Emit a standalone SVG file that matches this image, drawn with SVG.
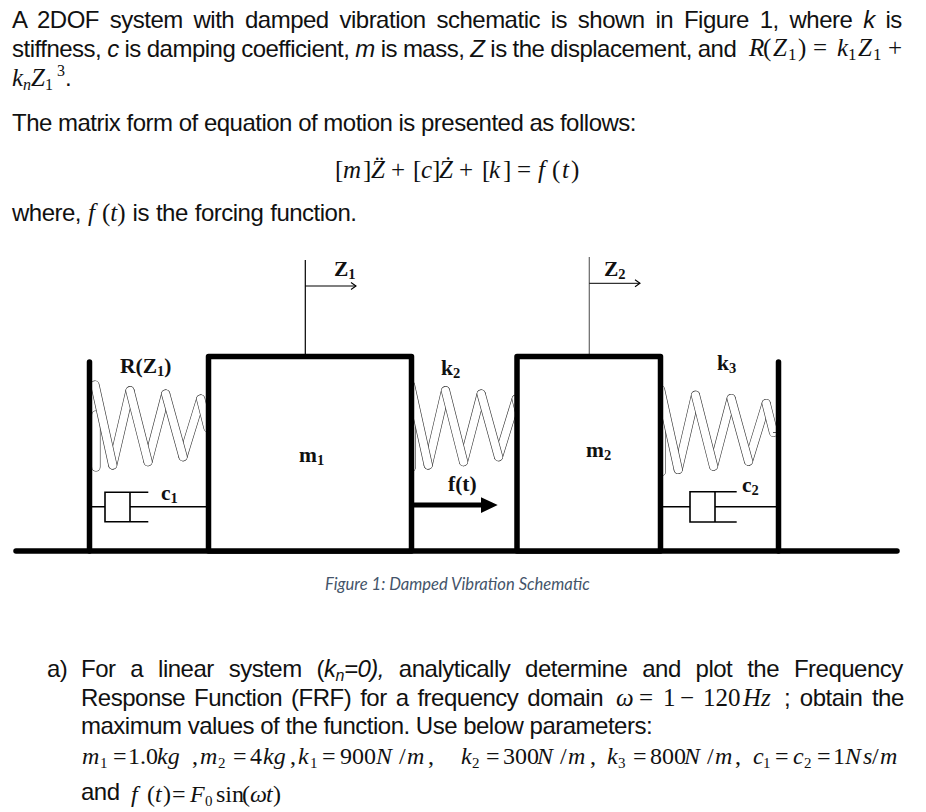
<svg xmlns="http://www.w3.org/2000/svg" xmlns:xlink="http://www.w3.org/1999/xlink" width="926" height="812" viewBox="0 0 926 812">
<style>
.b{font-family:"Liberation Sans",Arial,sans-serif;font-size:24px;fill:#111;letter-spacing:-.5px}
.m{font-family:"Liberation Serif","Times New Roman",serif;font-size:25px;fill:#111;letter-spacing:0}
.s{font-size:24px}
.i{font-style:italic}
.l{font-family:"Liberation Serif","Times New Roman",serif;font-size:21.500px;font-weight:bold;fill:#111}
.cap{font-family:Lato,"Open Sans",sans-serif;font-style:italic;font-size:16.600px;fill:#44546a}
.o{fill:none;stroke:#333;stroke-width:9;stroke-linecap:round;stroke-linejoin:round}
.w{fill:none;stroke:#fff;stroke-width:7.800;stroke-linecap:round;stroke-linejoin:round}
.t{fill:none;stroke:#000;stroke-width:5.500;stroke-linecap:round}
.box{fill:#fff;stroke:#000;stroke-width:5.500;stroke-linejoin:round}
.d{fill:none;stroke:#000;stroke-width:1.600}
.z{fill:none;stroke:#000;stroke-width:1.200}
</style>
<defs>
<marker id="open" markerWidth="10" markerHeight="10" refX="7" refY="4" orient="auto" markerUnits="userSpaceOnUse"><path d="M2,0.5 L7,4 L2,7.5" fill="none" stroke="#000" stroke-width="1.100"/></marker>
<g id="coil">
<path class="o" d="M96,467 L96,415"/><path class="w" d="M96,467 L96,415"/>
<path class="o" d="M112.700,465 L130,390.700"/><path class="w" d="M112.700,465 L130,390.700"/>
<path class="o" d="M148,461.700 L165.700,394"/><path class="w" d="M148,461.700 L165.700,394"/>
<path class="o" d="M183,456.700 L200.700,399"/><path class="w" d="M183,456.700 L200.700,399"/>
<path class="o" d="M95,385 L112.700,465"/><path class="w" d="M95,385 L112.700,465"/>
<path class="o" d="M130,390.700 L148,461.700"/><path class="w" d="M130,390.700 L148,461.700"/>
<path class="o" d="M165.700,394 L183,456.700"/><path class="w" d="M165.700,394 L183,456.700"/>
<path class="o" d="M200.700,399 L208,428"/><path class="w" d="M200.700,399 L208,428"/>
</g>
</defs>
<rect width="926" height="812" fill="#fff"/>

<g id="intro">
<text class="b" x="12" y="28" word-spacing="4.600">A 2DOF system with damped vibration schematic is shown in Figure 1, where <tspan class="i">k</tspan> is</text>
<text class="b" x="12" y="57" word-spacing="-.3">stiffness, <tspan class="i">c</tspan> is damping coefficient, <tspan class="i">m</tspan> is mass, <tspan class="i">Z</tspan> is the displacement, and</text>
<text class="m" y="56"><tspan class="i" x="749">R</tspan><tspan x="763">(</tspan><tspan class="i" x="773">Z</tspan><tspan font-size="17" x="788" dy="4">1</tspan><tspan x="798" dy="-4">)</tspan><tspan x="813">=</tspan><tspan class="i" x="837">k</tspan><tspan font-size="17" x="848" dy="4">1</tspan><tspan class="i" x="858" dy="-4">Z</tspan><tspan font-size="17" x="873" dy="4">1</tspan><tspan x="888" dy="-4">+</tspan></text>
<text class="m" x="12" y="86"><tspan class="i">k</tspan><tspan class="i" font-size="16" dy="4">n</tspan><tspan class="i" dy="-4">Z</tspan><tspan font-size="16" dy="4">1</tspan><tspan font-size="16" dy="-14"> 3</tspan><tspan class="b" dy="10">.</tspan></text>
<text class="b" x="12" y="131">The matrix form of equation of motion is presented as follows:</text>
<text class="m" y="178"><tspan x="335">[</tspan><tspan class="i" x="343">m</tspan><tspan x="363">]</tspan><tspan class="i" x="371">Z̈</tspan><tspan x="391">+</tspan><tspan x="413">[</tspan><tspan class="i" x="421">c</tspan><tspan x="432">]</tspan><tspan class="i" x="439">Ż</tspan><tspan x="459">+</tspan><tspan x="482">[</tspan><tspan class="i" x="489">k</tspan><tspan x="503">]</tspan><tspan x="517">=</tspan><tspan class="i" x="538">f</tspan><tspan x="552">(</tspan><tspan class="i" x="562">t</tspan><tspan x="571">)</tspan></text>
<text class="b" x="12" y="221" word-spacing=".8">where, <tspan class="m i">f</tspan><tspan class="m"> (</tspan><tspan class="m i">t</tspan><tspan class="m">)</tspan> is the forcing function.</text>
</g>

<g id="connectors">
<use xlink:href="#coil" href="#coil"/>
<use xlink:href="#coil" href="#coil" transform="translate(315.500,0)"/>
<use xlink:href="#coil" href="#coil" transform="translate(565.500,4.500)"/>
<path d="M773,432.500 H776" fill="none" stroke="#333" stroke-width=".8"/>
<path class="d" d="M92,506.700 H105 M148.300,492.300 H105 V521.700 H148.300 M130,492.300 V521.700 M130,506.700 H207"/>
<path class="d" d="M663,506.700 H690 M736.700,491.700 H690 V522 H736.700 M715,491.700 V522 M715,506.700 H776"/>
<path class="z" d="M305.300,260 V356"/>
<path class="z" d="M305.300,286 H356" marker-end="url(#open)"/>
<path class="z" stroke-opacity=".6" d="M589.300,257 V356"/>
<path class="z" stroke-opacity=".8" d="M589.300,283.300 H640" marker-end="url(#open)"/>
</g>

<g id="ground"><path class="t" d="M16,551 H897"/></g>
<g id="wall-left"><path class="t" d="M89.500,362 V551"/></g>
<g id="wall-right"><path class="t" d="M778.500,362 V551"/></g>
<g id="m1"><rect class="box" x="208.500" y="356.500" width="203" height="194.500"/><text class="l" x="299" y="462">m<tspan font-size="14.500" dy="3">1</tspan></text></g>
<g id="m2"><rect class="box" x="517" y="356.500" width="143.500" height="194.500"/><text class="l" x="586" y="457">m<tspan font-size="14.500" dy="3">2</tspan></text></g>
<g id="force"><path d="M413,502.500 H481 V497.300 L497.700,505 L481,513 V507.500 H413 Z" fill="#000"/></g>
<g id="labels">
<text class="l" x="120" y="373">R(Z<tspan font-size="14.500" dy="3">1</tspan><tspan dy="-3">)</tspan></text>
<text class="l" x="441" y="375">k<tspan font-size="14.500" dy="3">2</tspan></text>
<text class="l" x="717" y="370">k<tspan font-size="14.500" dy="3">3</tspan></text>
<text class="l" x="161" y="500">c<tspan font-size="14.500" dy="3">1</tspan></text>
<text class="l" x="742" y="492">c<tspan font-size="14.500" dy="3">2</tspan></text>
<text class="l" x="448" y="491">f(t)</text>
<text class="l" x="334" y="276">Z<tspan font-size="14.500" dy="3">1</tspan></text>
<text class="l" x="604" y="276">Z<tspan font-size="14.500" dy="3">2</tspan></text>
</g>
<text class="cap" x="325" y="590">Figure 1: Damped Vibration Schematic</text>

<g id="part-a">
<text class="b" x="47" y="677">a)</text>
<text class="b" x="81" y="677" word-spacing="8.700">For a linear system (<tspan class="i">k<tspan font-size="16" dy="4">n</tspan><tspan dy="-4">=0),</tspan></tspan> analytically determine and plot the Frequency</text>
<text class="b" x="81" y="706" word-spacing="2.800">Response Function (FRF) for a frequency domain</text>
<text class="m" y="706"><tspan class="i" x="616">ω</tspan><tspan x="639">=</tspan><tspan x="663">1</tspan><tspan x="680">−</tspan><tspan x="703">120</tspan><tspan class="i" x="743">Hz</tspan></text>
<text class="b" x="784" y="706" word-spacing="3.500">; obtain the</text>
<text class="b" x="81" y="734">maximum values of the function. Use below parameters:</text>
<text class="m s" y="764"><tspan class="i" x="82">m</tspan><tspan font-size="15" x="100" dy="4">1</tspan><tspan x="113" dy="-4">=</tspan><tspan x="128">1.0</tspan><tspan class="i" x="157">kg</tspan><tspan x="192">,</tspan><tspan class="i" x="200">m</tspan><tspan font-size="15" x="218" dy="4">2</tspan><tspan x="233" dy="-4">=</tspan><tspan x="250">4</tspan><tspan class="i" x="263">kg</tspan><tspan x="290">,</tspan><tspan class="i" x="298">k</tspan><tspan font-size="15" x="310" dy="4">1</tspan><tspan x="322" dy="-4">=</tspan><tspan x="340">900</tspan><tspan class="i" x="376">N</tspan><tspan x="399">/</tspan><tspan class="i" x="407">m</tspan><tspan x="428">,</tspan></text>
<text class="m s" y="764"><tspan class="i" x="461">k</tspan><tspan font-size="15" x="472" dy="4">2</tspan><tspan x="486" dy="-4">=</tspan><tspan x="503">300</tspan><tspan class="i" x="537">N</tspan><tspan x="560">/</tspan><tspan class="i" x="568">m</tspan><tspan x="590">,</tspan></text>
<text class="m s" y="764"><tspan class="i" x="607">k</tspan><tspan font-size="15" x="618" dy="4">3</tspan><tspan x="633" dy="-4">=</tspan><tspan x="650">800</tspan><tspan class="i" x="684">N</tspan><tspan x="707">/</tspan><tspan class="i" x="715">m</tspan><tspan x="735">,</tspan></text>
<text class="m s" y="764"><tspan class="i" x="753">c</tspan><tspan font-size="15" x="763" dy="4">1</tspan><tspan x="775" dy="-4">=</tspan><tspan class="i" x="793">c</tspan><tspan font-size="15" x="804" dy="4">2</tspan><tspan x="817" dy="-4">=</tspan><tspan x="833">1</tspan><tspan class="i" x="845">N</tspan><tspan class="i" x="863">s</tspan><tspan x="872">/</tspan><tspan class="i" x="880">m</tspan></text>
<text class="b" x="81" y="800">and</text>
<text class="m s" y="802"><tspan class="i" x="131">f</tspan><tspan x="147">(</tspan><tspan class="i" x="155">t</tspan><tspan x="163">)</tspan><tspan x="172">=</tspan><tspan class="i" x="190">F</tspan><tspan font-size="15" x="205" dy="4">0</tspan><tspan x="216" dy="-4">sin</tspan><tspan x="242">(</tspan><tspan class="i" x="250">ω</tspan><tspan class="i" x="266">t</tspan><tspan x="273">)</tspan></text>
</g>
</svg>
